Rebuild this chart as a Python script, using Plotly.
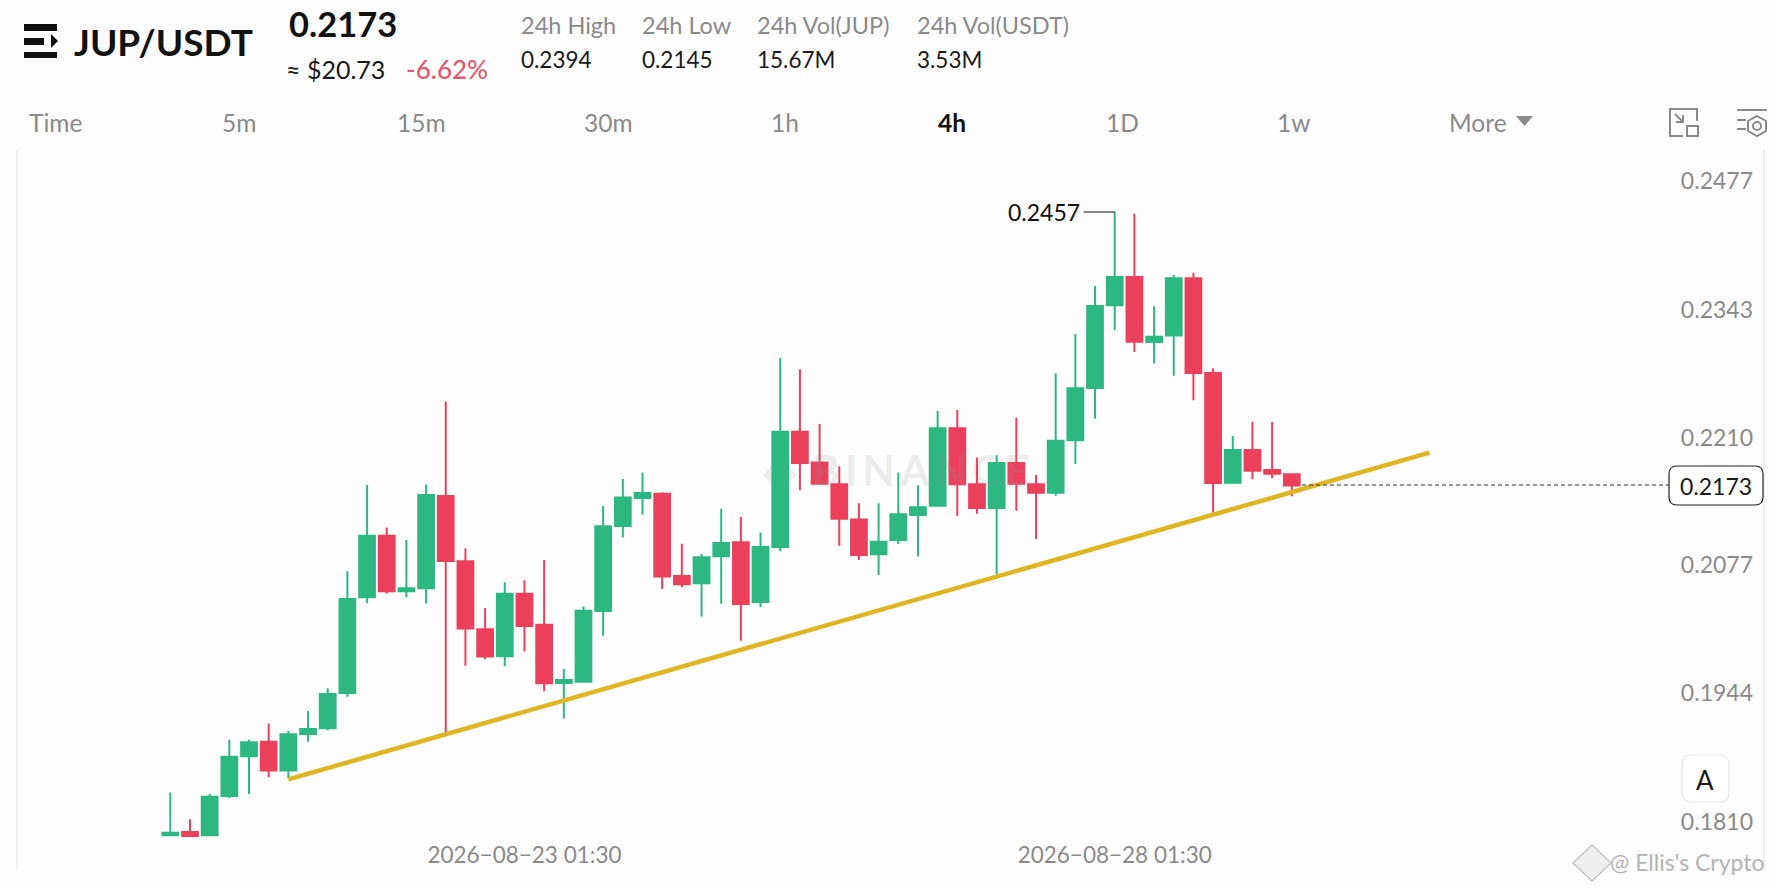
import pandas as pd
import plotly.graph_objects as go

# candles, 4h apart
dates = pd.date_range("2026-08-20 01:30", periods=58, freq="4h")
opens = [.18086, .18120, .18086, .18495, .18908, .19060, .18759, .19140, .19199, .19567,
         .20562, .21203, .20624, .20655, .21616, .20936, .20229, .19948, .20600, .20277,
         .19671, .19684, .20420, .21304, .21595, .21640, .20784, .20707, .20988, .21134,
         .20513, .21085, .22285, .21963, .21737, .21370, .21009, .21158, .21418, .21515,
         .22320, .21737, .21491, .21959, .21737, .21650, .22195, .22739, .23599, .23894,
         .23218, .23284, .23880, .22895, .21754, .22094, .21886, .21841]
highs = [.18530, .18252, .18519, .19081, .19081, .19248, .19171, .19379, .19615, .20832,
         .21731, .21287, .21158, .21734, .22598, .21072, .20451, .20718, .20739, .20950,
         .19816, .20465, .21512, .21793, .21859, .21654, .21120, .21013, .21484, .21397,
         .21235, .23052, .22934, .22365, .21925, .21540, .21540, .21859, .21727, .22500,
         .22511, .22015, .22039, .22430, .21834, .22892, .23301, .23800, .24570, .24553,
         .23589, .23915, .23939, .22944, .22240, .22389, .22385, .21848]
lows = [.18086, .18072, .18086, .18474, .18516, .18689, .18679, .19060, .19178, .19528,
        .20499, .20600, .20562, .20499, .19147, .19851, .19917, .19844, .19997, .19584,
        .19300, .19684, .20163, .21183, .21422, .20648, .20666, .20361, .20496, .20111,
        .20461, .21040, .21675, .21744, .21099, .20950, .20794, .21117, .20985, .21505,
        .21404, .21432, .20801, .21463, .21168, .21619, .21948, .22420, .23339, .23114,
        .22996, .22867, .22611, .21442, .21754, .21789, .21799, .21612]
closes = [.18113, .18079, .18488, .18904, .19053, .18759, .19137, .19192, .19556, .20545,
          .21203, .20624, .20655, .21627, .20940, .20236, .19945, .20600, .20264, .19667,
          .19702, .20423, .21301, .21599, .21647, .20777, .20697, .20978, .21127, .20492,
          .21085, .22285, .21959, .21744, .21380, .21002, .21141, .21425, .21498, .22320,
          .21737, .21491, .21959, .21744, .21650, .22191, .22736, .23592, .23894, .23221,
          .23273, .23880, .22895, .21751, .22094, .21879, .21848, .21726]

trend_dates = ["2026-08-21 01:30", "2026-08-30 17:30"]
trend_prices = [.18668, .22066]

price_ticks = [.2477, .2343, .2210, .2077, .1944, .1810]
price_labels = ["0.2477", "0.2343", "0.2210", "0.2077", "0.1944", "0.1810"]
date_ticks = ["2026-08-23 01:30", "2026-08-28 01:30"]
date_labels = ["2026\u221208\u221223 01:30", "2026\u221208\u221228 01:30"]
last_price = 0.2173
peak_price = 0.2457
peak_date = "2026-08-28 01:30"

GREEN = "#2DB783"
RED = "#EB405C"
GOLD = "#DFB522"
GRAY = "#8A8A8A"
BG = "#FDFDFD"
FONT = "Lato"
W, H = 1770, 888


def px(x):
    return x / W


def py(y):
    return 1 - y / H


def label(x, y, text, size, color="#1A1A1A", anchor="left", weight=400):
    return dict(text=text, x=px(x), y=py(y), xref="paper", yref="paper", showarrow=False,
                xanchor=anchor, yanchor="middle",
                font=dict(family=FONT, size=size, color=color, weight=weight))


def box(x0, y0, x1, y1, color, width=1.5, fill=None, kind="rect"):
    return dict(type=kind, xref="paper", yref="paper", x0=px(x0), x1=px(x1), y0=py(y0), y1=py(y1),
                line=dict(color=color, width=width), fillcolor=fill)


def poly(points, color, width=1.5, fill=None, closed=False, layer="above"):
    path = "M " + " L ".join(f"{px(x)} {py(y)}" for x, y in points)
    if closed:
        path += " Z"
    return dict(type="path", xref="paper", yref="paper", path=path, layer=layer,
                line=dict(color=color, width=width), fillcolor=fill)


def rounded(x0, y0, x1, y1, r, color, width=1.2, fill=None):
    path = (f"M {px(x0 + r)} {py(y0)} L {px(x1 - r)} {py(y0)} Q {px(x1)} {py(y0)} {px(x1)} {py(y0 + r)} "
            f"L {px(x1)} {py(y1 - r)} Q {px(x1)} {py(y1)} {px(x1 - r)} {py(y1)} "
            f"L {px(x0 + r)} {py(y1)} Q {px(x0)} {py(y1)} {px(x0)} {py(y1 - r)} "
            f"L {px(x0)} {py(y0 + r)} Q {px(x0)} {py(y0)} {px(x0 + r)} {py(y0)} Z")
    return dict(type="path", xref="paper", yref="paper", path=path,
                line=dict(color=color, width=width), fillcolor=fill)


fig = go.Figure()
fig.add_trace(go.Candlestick(
    x=dates, open=opens, high=highs, low=lows, close=closes,
    increasing=dict(line=dict(color=GREEN, width=2), fillcolor=GREEN),
    decreasing=dict(line=dict(color=RED, width=2), fillcolor=RED),
    showlegend=False,
))
fig.add_trace(go.Scatter(x=trend_dates, y=trend_prices, mode="lines",
                         line=dict(color=GOLD, width=4.5), showlegend=False))

annotations = [
    label(72, 42, "JUP/USDT", 37, "#111111", weight=700),
    label(287, 24, "0.2173", 34.5, "#111111", weight=700),
    label(284, 69, "\u2248 $20.73", 25),
    label(404, 69, "-6.62%", 26, "#DF5A72", weight=500),
    label(519, 25, "24h High", 23.5, GRAY),
    label(640, 25, "24h Low", 23.5, GRAY),
    label(755, 25, "24h Vol(JUP)", 23.5, GRAY),
    label(915, 25, "24h Vol(USDT)", 23.5, GRAY),
    label(519, 59, "0.2394", 22.5),
    label(640, 59, "0.2145", 22.5),
    label(755, 59, "15.67M", 22.5),
    label(915, 59, "3.53M", 22.5),
    label(27, 123, "Time", 24.5, GRAY),
    label(220, 123, "5m", 24.5, GRAY),
    label(395, 123, "15m", 24.5, GRAY),
    label(582, 123, "30m", 24.5, GRAY),
    label(769, 123, "1h", 24.5, GRAY),
    label(936, 123, "4h", 24.5, "#111111", weight=700),
    label(1104, 123, "1D", 24.5, GRAY),
    label(1275, 123, "1w", 24.5, GRAY),
    label(1447, 123, "More", 24.5, GRAY),
    label(1705, 780, "A", 26, anchor="center"),
    label(1716, 486, "0.2173", 23, anchor="center"),
    label(920, 470, "B\u2009I\u2009N\u2009A\u2009N\u2009C\u2009E", 42, "rgba(150,150,150,0.16)",
          anchor="center", weight=700),
    label(1608, 862, "@ Ellis's Crypto", 23, "#B4B4B4"),
    dict(text="0.2457", x=peak_date, y=peak_price, xref="x", yref="y", showarrow=False,
         xanchor="right", yanchor="middle", xshift=-33, font=dict(family=FONT, size=23, color="#111111")),
]

shapes = [
    # logo
    box(24, 24, 57, 31, "#111111", 0, "#111111"),
    box(24, 38, 44, 45, "#111111", 0, "#111111"),
    box(24, 52, 57, 58, "#111111", 0, "#111111"),
    poly([(51, 34), (58, 41), (51, 48)], "#111111", 0, "#111111", closed=True),
    # panel edges
    dict(type="line", xref="paper", yref="paper", x0=px(17), x1=px(17), y0=py(150), y1=py(870),
         line=dict(color="#EDEDED", width=1.5)),
    dict(type="line", xref="paper", yref="paper", x0=px(1764), x1=px(1764), y0=py(150), y1=py(870),
         line=dict(color="#EDEDED", width=1.5)),
    # watermarks
    poly([(780, 457), (797, 475), (780, 493), (763, 475)], "rgba(170,170,170,0)", 0,
         "rgba(170,170,170,0.18)", closed=True, layer="below"),
    poly([(1592, 845), (1611, 863), (1592, 881), (1573, 863)], "#C4C4C4", 1.5, "rgba(200,200,200,0.25)",
         closed=True),
    # last price line and tag
    dict(type="line", xref="paper", yref="y", x0=px(1302), x1=px(1669), y0=last_price, y1=last_price,
         line=dict(color="#333333", width=1, dash="4px,3px")),
    rounded(1669, 466, 1763, 505, 8, "#222222", 1.2, "#FFFFFF"),
    rounded(1682, 755, 1729, 802, 10, "#EAEAEA", 1.2, "#FFFFFF"),
    # peak marker
    dict(type="line", xref="x", yref="y", xsizemode="pixel", xanchor=peak_date, x0=-31, x1=0,
         y0=peak_price, y1=peak_price, line=dict(color="#111111", width=1)),
    # toolbar: menu arrow and icons
    poly([(1516, 116), (1533, 116), (1524.5, 126)], GRAY, 0, GRAY, closed=True),
    poly([(1683, 136), (1670, 136), (1670, 109), (1697, 109), (1697, 121)], GRAY, 2),
    box(1687, 126, 1698, 136, GRAY, 2),
    poly([(1675, 114), (1683, 122)], GRAY, 2),
    poly([(1683, 115), (1683, 122), (1676, 122)], GRAY, 2),
    poly([(1737, 110), (1767, 110)], GRAY, 2),
    poly([(1737, 120), (1746, 120)], GRAY, 2),
    poly([(1737, 129), (1746, 129)], GRAY, 2),
    poly([(1757, 116), (1766, 121), (1766, 131), (1757, 136), (1748, 131), (1748, 121)], GRAY, 2, closed=True),
    box(1753, 122, 1761, 130, GRAY, 2, kind="circle"),
]

fig.update_layout(
    width=W, height=H,
    margin=dict(l=0, r=0, t=0, b=0),
    paper_bgcolor=BG, plot_bgcolor=BG,
    boxgap=0.2, boxgroupgap=0,
    showlegend=False,
    annotations=annotations,
    shapes=shapes,
    font=dict(family=FONT),
)
fig.update_xaxes(
    domain=[px(17), px(1764)], range=["2026-08-18 18:20", "2026-09-02 13:30"],
    rangeslider_visible=False, showgrid=False, zeroline=False, showline=False,
    tickvals=date_ticks, ticktext=date_labels, ticks="",
    ticklabelposition="inside", tickfont=dict(family=FONT, size=22.5, color=GRAY),
)
fig.update_yaxes(
    domain=[py(870), py(150)], range=[.17725, .25215], side="right",
    showgrid=False, zeroline=False, showline=False,
    tickvals=price_ticks, ticktext=price_labels, ticks="",
    ticklabelposition="inside", ticklabelshift=-12, ticklabelstandoff=8,
    tickfont=dict(family=FONT, size=23, color=GRAY),
)

fig.write_html("out.html", config=dict(displayModeBar=False), post_script="document.body.style.margin='0'")
